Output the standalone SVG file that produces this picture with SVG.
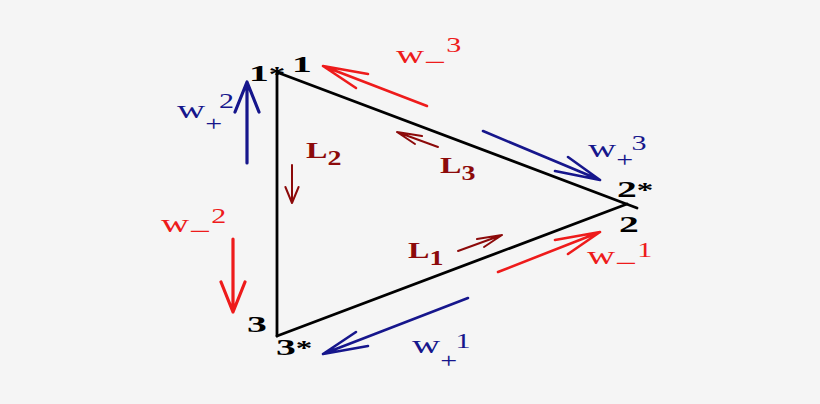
<svg xmlns="http://www.w3.org/2000/svg" width="820" height="404" viewBox="0 0 820 404">
<style>
.bg{fill:#f5f5f5}
.edge{stroke:#000;stroke-width:2.8;fill:none;stroke-linecap:round}
.ar{fill:none;stroke-linecap:round;stroke-linejoin:round}
.blue{stroke:#16168c}
.red{stroke:#ee1b1b}
.dred{stroke:#8c0a0a;stroke-width:2}
.big{stroke-width:3.2}
.mid{stroke-width:2.6}
.w{font-family:"Liberation Serif","Times New Roman",serif;font-size:26px}
.wb{fill:#16168c}
.wr{fill:#ee1b1b}
.s{font-size:20px}
.v{font-family:"Liberation Serif","Times New Roman",serif;font-weight:bold;font-size:24px;fill:#000}
.st{font-size:20px}
.L{font-family:"Liberation Serif","Times New Roman",serif;font-weight:bold;font-size:23px;fill:#8c0a0a}
</style>
<rect class="bg" x="0" y="0" width="820" height="404"/>
<g id="connectors">
  <path class="edge" d="M277,72 L277,336"/>
  <path class="edge" d="M279,73 L637,208"/>
  <path class="edge" d="M277,336 L627,204"/>
</g>
<g id="node-1">
  <text class="v" transform="translate(249,81) scale(1.65,1)">1<tspan class="st">*</tspan></text>
  <text class="v" transform="translate(292,72) scale(1.65,1)">1</text>
</g>
<g id="node-2">
  <text class="v" transform="translate(617,197) scale(1.65,1)">2<tspan class="st">*</tspan></text>
  <text class="v" transform="translate(619,232) scale(1.65,1)">2</text>
</g>
<g id="node-3">
  <text class="v" transform="translate(247,332) scale(1.65,1)">3</text>
  <text class="v" transform="translate(276,355) scale(1.65,1)">3<tspan class="st">*</tspan></text>
</g>
<g id="w-plus-2">
  <path class="ar blue big" d="M247,163 L247,82 M235,112 L247,82 L259,112"/>
  <text class="w wb" transform="translate(177,118) scale(1.5,1)">w<tspan class="s" dy="13">+</tspan><tspan class="s" dx="-2" dy="-23">2</tspan></text>
</g>
<g id="w-minus-3">
  <path class="ar red mid" d="M427,106 L323,66 M356,88 L323,66 L368,74"/>
  <text class="w wr" transform="translate(396,63) scale(1.5,1)">w<tspan dy="7.5">−</tspan><tspan class="s" dy="-18.5">3</tspan></text>
</g>
<g id="w-plus-3">
  <path class="ar blue mid" d="M483,131 L600,180 M568,157 L600,180 L555,171"/>
  <text class="w wb" transform="translate(588,157) scale(1.5,1)">w<tspan class="s" dy="10">+</tspan><tspan class="s" dx="-1" dy="-17">3</tspan></text>
</g>
<g id="w-minus-2">
  <path class="ar red big" d="M233,239 L233,312 M221,282 L233,312 L245,282"/>
  <text class="w wr" transform="translate(161,232) scale(1.5,1)">w<tspan dy="7.5">−</tspan><tspan class="s" dy="-16.5">2</tspan></text>
</g>
<g id="w-minus-1">
  <path class="ar red mid" d="M498,272 L600,232 M555,240 L600,232 L568,254"/>
  <text class="w wr" transform="translate(587,264) scale(1.5,1)">w<tspan dy="7.5">−</tspan><tspan class="s" dy="-15">1</tspan></text>
</g>
<g id="w-plus-1">
  <path class="ar blue mid" d="M468,298 L323,354 M356,332 L323,354 L368,346"/>
  <text class="w wb" transform="translate(412,353) scale(1.5,1)">w<tspan class="s" dy="15">+</tspan><tspan class="s" dx="-1" dy="-20">1</tspan></text>
</g>
<g id="L-2">
  <path class="ar dred" d="M292,165 L292,203 M285.4,187 L292,203 L298.6,187"/>
  <text class="L" transform="translate(306,158) scale(1.4,1)">L<tspan class="s" dy="7">2</tspan></text>
</g>
<g id="L-3">
  <path class="ar dred" d="M438,147 L397,132 M415,144 L397,132 L422,136"/>
  <text class="L" transform="translate(440,173) scale(1.4,1)">L<tspan class="s" dy="7">3</tspan></text>
</g>
<g id="L-1">
  <path class="ar dred" d="M458,251 L502,235 M477,239 L502,235 L484,247"/>
  <text class="L" transform="translate(408,258) scale(1.4,1)">L<tspan class="s" dy="7">1</tspan></text>
</g>
</svg>
